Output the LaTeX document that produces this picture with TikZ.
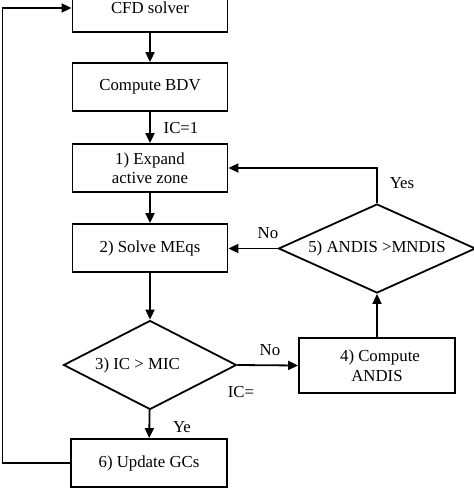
\documentclass[tikz,border=0pt]{standalone}
\usepackage{fontspec}
\setmainfont{Liberation Serif}
\usetikzlibrary{shapes.geometric,arrows.meta}
\begin{document}
\begin{tikzpicture}[x=1pt,y=-1pt,
  every node/.style={font=\fontsize{16.8}{19.5}\selectfont},
  box/.style={draw,line width=1.8pt,minimum width=155pt,minimum height=48pt,inner sep=0pt,align=center},
  dia/.style={draw,line width=1.8pt,shape=diamond,aspect=2.2,inner sep=0pt},
  arr/.style={line width=1.8pt,-{Triangle[length=10pt,width=9pt]}},
  lab/.style={inner sep=0pt}]
\useasboundingbox (0,0) rectangle (474,488);
\node[box] (cfd) at (150,8) {CFD solver};
\node[box] (bdv) at (150,87) {Compute BDV};
\node[box] (exp) at (150,168) {1) Expand\\active zone};
\node[box] (solve) at (150,248) {2) Solve MEqs};
\node[dia,minimum width=173pt,minimum height=89pt] (d3) at (150,365) {3) IC {>} MIC\hspace*{25pt}};
\node[box,minimum width=156pt,minimum height=55pt] (b4) at (377,365.5) {\hspace*{6pt}4) Compute\\ANDIS};
\node[dia,minimum width=197pt,minimum height=89pt] (d5) at (377,248.5) {5) ANDIS {>}MNDIS};
\node[box,minimum width=156pt] (b6) at (149,463) {6) Update GCs};
\coordinate (lft) at (2.5,463);
\draw[arr] (cfd) -- (bdv);
\draw[arr] (bdv) -- (exp);
\draw[arr] (exp) -- (solve);
\draw[arr] (solve) -- (d3);
\draw[arr] (d3) -- (b6);
\draw[arr] (d3.east) -- (b4.west);
\draw[arr] (b4.north) -- (d5.south);
\draw[arr] (d5.north) |- (exp.east);
\draw[arr] (d5.west) -- (d5.west -| solve.east);
\draw[arr] (b6.west) -- (lft) |- (cfd.west);
\node[lab] (ic1) at (181,128) {IC=1};
\node[lab] (yes) at (402,183) {Yes};
\node[lab] (no1) at (268,233) {No};
\node[lab] (no2) at (270,350) {No};
\node[lab] (ic2) at (241,392) {IC=};
\node[lab] (ye) at (182,427) {Ye};
\end{tikzpicture}
\end{document}
